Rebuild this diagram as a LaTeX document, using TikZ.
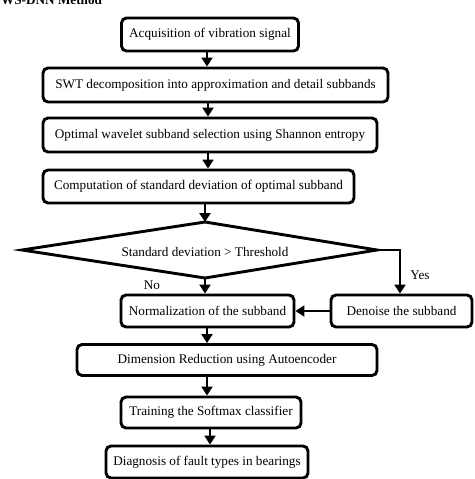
\documentclass[tikz,border=0pt]{standalone}
\usepackage{fontspec}
\setmainfont{Liberation Serif}
\usetikzlibrary{arrows.meta}
\begin{document}
\begin{tikzpicture}[x=1pt,y=-1pt,
  stepbox/.style={draw,line width=2.9pt,rounded corners=5pt,inner sep=0pt,font=\fontsize{13.2}{15}\selectfont},
  flow/.style={line width=2.9pt,-{Triangle[length=9pt,width=11pt]}},
  lbl/.style={font=\fontsize{13.2}{15}\selectfont,inner sep=0pt}]
\useasboundingbox (0,0) rectangle (474,479);
\node[anchor=base west,font=\bfseries\fontsize{13.2}{15}\selectfont,inner sep=0pt] (title) at (1,5) {WS-DNN Method};
\node[stepbox,minimum width=177pt,minimum height=33pt] (b1) at (210,34.5) {Acquisition of vibration signal};
\node[stepbox,minimum width=345pt,minimum height=34pt] (b2) at (215.5,85) {SWT decomposition into approximation and detail subbands};
\node[stepbox,minimum width=334pt,minimum height=34pt] (b3) at (210,135) {Optimal wavelet subband selection using Shannon entropy};
\node[stepbox,minimum width=311pt,minimum height=33pt] (b4) at (198.5,186.5) {Computation of standard deviation of optimal subband};
\coordinate (dtop) at (205,222);
\coordinate (dright) at (377,250);
\coordinate (dbottom) at (205,278);
\coordinate (dleft) at (22,250);
\draw[line width=2.9pt,line join=miter] (dtop) -- (dright) -- (dbottom) -- (dleft) -- cycle;
\node[lbl] (cond) at (205,252) {Standard deviation > Threshold};
\node[stepbox,minimum width=173pt,minimum height=32pt] (b5) at (207.5,311) {Normalization of the subband};
\node[stepbox,minimum width=141pt,minimum height=32pt] (b6) at (401.5,311) {Denoise the subband};
\node[stepbox,minimum width=300pt,minimum height=31pt] (b7) at (227,360) {Dimension Reduction using Autoencoder};
\node[stepbox,minimum width=180pt,minimum height=31pt] (b8) at (211,412.5) {Training the Softmax classifier};
\node[stepbox,minimum width=202pt,minimum height=32pt] (b9) at (207,462) {Diagnosis of fault types in bearings};
\node[lbl] (yes) at (420,275) {Yes};
\node[lbl] (no) at (152,285) {No};
\draw[flow] (207,0 |- b1.south) -- (207,0 |- b2.north);
\draw[flow] (208,0 |- b2.south) -- (208,0 |- b3.north);
\draw[flow] (208,0 |- b3.south) -- (208,0 |- b4.north);
\draw[flow] (205,0 |- b4.south) -- (dtop);
\draw[flow] (dbottom) -- (205,0 |- b5.north);
\draw[flow] (dright) -- (400,250) -- (400,0 |- b6.north);
\draw[flow] (b6.west) -- (b5.east);
\draw[flow] (207,0 |- b5.south) -- (207,0 |- b7.north);
\draw[flow] (207,0 |- b7.south) -- (207,0 |- b8.north);
\draw[flow] (210,0 |- b8.south) -- (210,0 |- b9.north);
\end{tikzpicture}
\end{document}
